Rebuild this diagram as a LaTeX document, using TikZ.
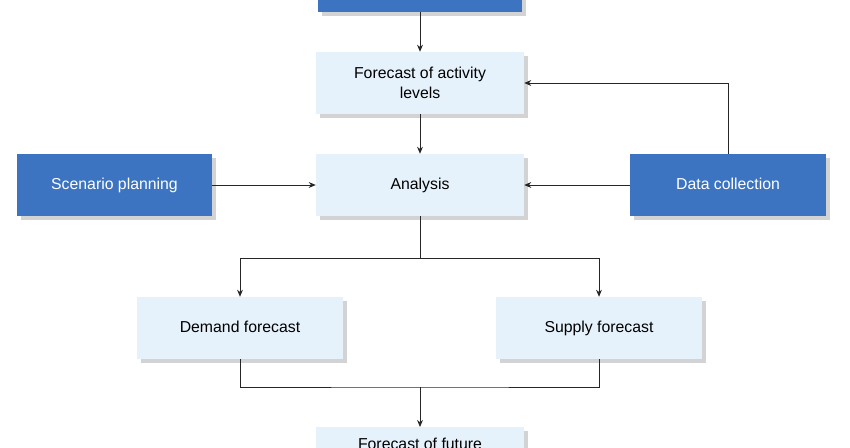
\documentclass[tikz,border=0pt]{standalone}
\usepackage{fontspec}
\setmainfont{Liberation Sans}
\usetikzlibrary{shadows,arrows.meta}
\definecolor{darkbox}{HTML}{3C74C2}
\definecolor{lightbox}{HTML}{E6F2FB}
\begin{document}
\begin{tikzpicture}[x=0.03cm, y=-0.03cm,
		font=\fontsize{13.5}{17.5}\selectfont,
		darkstep/.style={rectangle, fill=darkbox, text=white, minimum width=6.1cm, minimum height=1.86cm, align=center, text height=10pt, text depth=3pt, drop shadow={shadow xshift=3pt, shadow yshift=-3pt, opacity=0.35}},
		lightstep/.style={rectangle, fill=lightbox, text=black, minimum width=6.24cm, minimum height=1.86cm, align=center, drop shadow={shadow xshift=3pt, shadow yshift=-3pt, opacity=0.35}},
		link/.style={draw=black!85, line width=0.7pt},
		arr/.style={link, -{Stealth[length=6pt,width=5pt]}}
		]
	\clip (0,0) rectangle (850,447);
	\node [darkstep, minimum width=6.12cm] (top) at (420,-19) {};
	\node [lightstep] (activity) at (420,83) {Forecast of activity\\levels};
	\node [lightstep, text height=10pt, text depth=3pt] (analysis) at (420,185) {Analysis};
	\node [darkstep, minimum width=5.85cm] (scenario) at (114.5,185) {Scenario planning};
	\node [darkstep, minimum width=5.88cm] (data) at (728,185) {Data collection};
	\node [lightstep, minimum width=6.18cm, text height=10pt, text depth=3pt] (demand) at (240,328) {Demand forecast};
	\node [lightstep, minimum width=6.18cm, text height=10pt, text depth=3pt] (supply) at (599,328) {Supply forecast};
	\node [lightstep, minimum width=6.24cm, minimum height=0pt, text height=10pt, text depth=12pt, anchor=north, inner ysep=9pt] (future) at (420,427) {Forecast of future};
	% connectors
	\draw [arr] (top) -- (activity);
	\draw [arr] (activity) -- (analysis);
	\draw [arr] (scenario) -- (analysis);
	\draw [arr] (data) -- (analysis);
	\draw [arr] (data.north) |- (activity.east);
	\coordinate (split) at (420,258);
	\draw [link] (analysis.south) -- (split);
	\draw [arr] (split) -| (demand.north);
	\draw [arr] (split) -| (supply.north);
	\coordinate (join) at (420,387);
	\draw [link] (demand.south) |- (join) -| (supply.south);
	\draw [arr] (join) -- (future.north);
\end{tikzpicture}
\end{document}
